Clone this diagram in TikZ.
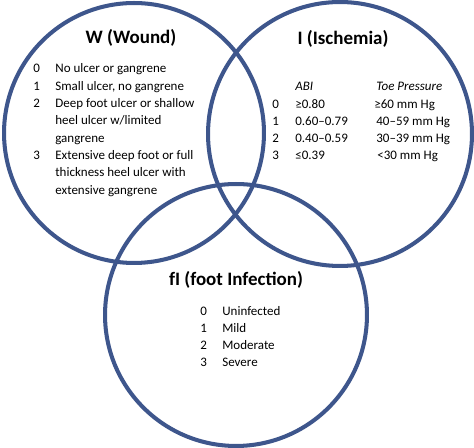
\documentclass[tikz,border=0pt]{standalone}
\usepackage{fontspec}
\setmainfont{Carlito}
\definecolor{ringblue}{RGB}{62,86,140}
\tikzset{
  ring/.style={circle, draw=ringblue, line width=2.3pt, inner sep=0pt, minimum size=#1},
  heading/.style={font=\fontsize{10.8}{13}\selectfont\bfseries, inner sep=0pt},
  entry/.style={font=\fontsize{7.4}{9.6}\selectfont, anchor=base west, inner sep=0pt},
}
\begin{document}
\begin{tikzpicture}[x=0.02cm, y=-0.02cm]
\useasboundingbox (0,0) rectangle (474,448);
% the three circles
\node[ring=5.2cm] (wound) at (134,133) {};
\node[ring=5.28cm] (isch) at (340,134) {};
\node[ring=5.24cm] (infect) at (236,315) {};
% W (Wound)
\node[heading] (wtitle) at (131,38) {W (Wound)};
\foreach [count=\k] \n/\t in {0/No ulcer or gangrene, 1/{Small ulcer, no gangrene}, 2/Deep foot ulcer or shallow, /{heel ulcer w/limited}, /gangrene, 3/Extensive deep foot or full, /thickness heel ulcer with, /extensive gangrene} {
  \pgfmathsetmacro{\y}{69+(\k-1)*17.3+4}
  \node[entry] (wn\k) at (33,\y) {\n};
  \node[entry] (wt\k) at (55,\y) {\t};
}
% I (Ischemia)
\node[heading] (ititle) at (343,39) {I (Ischemia)};
\node[entry, font=\fontsize{7.4}{9.6}\selectfont\itshape] (abi) at (295,91) {ABI};
\node[entry, font=\fontsize{7.4}{9.6}\selectfont\itshape] (toe) at (376,91) {Toe Pressure};
\foreach [count=\k] \n/\a/\p/\dx in {0/≥0.80/≥60 mm Hg/-2, 1/0.60--0.79/40--59 mm Hg/0, 2/0.40--0.59/30--39 mm Hg/0, 3/≤0.39/<30 mm Hg/1} {
  \pgfmathsetmacro{\y}{105+(\k-1)*17+4}
  \node[entry] (in\k) at (272,\y) {\n};
  \node[entry] (ia\k) at (295,\y) {\a};
  \node[entry] (ip\k) at (376+\dx,\y) {\p};
}
% fI (foot Infection)
\node[heading] (ftitle) at (236,280) {fI (foot Infection)};
\foreach [count=\k] \n/\t in {0/Uninfected, 1/Mild, 2/Moderate, 3/Severe} {
  \pgfmathsetmacro{\y}{312+(\k-1)*17+4}
  \node[entry] (fn\k) at (200,\y) {\n};
  \node[entry] (ft\k) at (222,\y) {\t};
}
\end{tikzpicture}
\end{document}
